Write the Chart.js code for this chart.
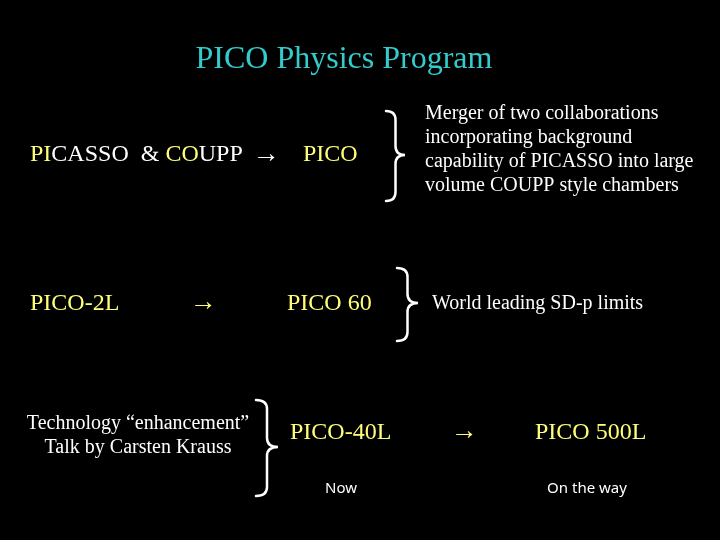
<!DOCTYPE html>
<html>
<head>
<meta charset="utf-8">
<script src="https://cdn.jsdelivr.net/npm/chart.js@4.4.1/dist/chart.umd.min.js"></script>
<style>
  html, body { margin: 0; padding: 0; background: #000; }
  #slide { display: block; }
</style>
</head>
<body>
<canvas id="slide" width="720" height="540"></canvas>
<script>
// Textos do slide
const titleText = "PICO Physics Program";
const sourceParts = [["PI", "y"], ["CASSO  & ", "w"], ["CO", "y"], ["UPP", "w"]];
const stageNames = ["PICO", "PICO-2L", "PICO 60", "PICO-40L", "PICO 500L"];
const noteMerger = ["Merger of two collaborations", "incorporating background",
    "capability of PICASSO into large", "volume COUPP style chambers"];
const noteLimits = ["World leading SD-p limits"];
const noteTech = ["Technology \u201cenhancement\u201d", "Talk by Carsten Krauss"];
const statusLabels = ["Now", "On the way"];
const arrowText = "\u2192";

const colors = { y: "#FFFF77", w: "#FFFFFF", title: "#33CCCC" };
const serif = "'Liberation Serif', 'Times New Roman', serif";

// posição de cada item (em unidades das escalas: 0-720 x 0-540)
const items = [
    { x: 344, y: 60, kind: "title" },
    { x: 30, y: 155, kind: "parts" },
    { x: 266, y: 155, kind: "arrow", c: "w" },
    { x: 303, y: 155, kind: "stage", i: 0 },
    { x: 425, y: 114, kind: "note", lines: noteMerger },
    { x: 30, y: 304, kind: "stage", i: 1 },
    { x: 203, y: 303, kind: "arrow", c: "y" },
    { x: 287, y: 304, kind: "stage", i: 2 },
    { x: 432, y: 304, kind: "note", lines: noteLimits },
    { x: 138, y: 424, kind: "note", lines: noteTech, center: true },
    { x: 290, y: 433, kind: "stage", i: 3 },
    { x: 464, y: 432, kind: "arrow", c: "y" },
    { x: 535, y: 433, kind: "stage", i: 4 },
    { x: 341, y: 489, kind: "status", i: 0 },
    { x: 587, y: 489, kind: "status", i: 1 }
];

// chaves: x0, x1, topo, base, ponta
const braces = [
    { x0: 386, x1: 405, top: 111, bottom: 201, mid: 155 },
    { x0: 397, x1: 418, top: 268, bottom: 341, mid: 303 },
    { x0: 256, x1: 278, top: 400, bottom: 496, mid: 447 }
];

const slidePlugin = {
    id: "slideText",
    afterDatasetsDraw(chart) {
        const ctx = chart.ctx;
        const xs = chart.scales.x, ys = chart.scales.y;
        ctx.save();

        // chaves
        ctx.strokeStyle = "#FFFFFF";
        ctx.lineWidth = 2.5;
        ctx.lineCap = "round";
        braces.forEach(b => {
            const x0 = xs.getPixelForValue(b.x0), x1 = xs.getPixelForValue(b.x1);
            const t = ys.getPixelForValue(b.top), bo = ys.getPixelForValue(b.bottom);
            const m = ys.getPixelForValue(b.mid);
            const xm = (x0 + x1) / 2, r = 9;
            ctx.beginPath();
            ctx.moveTo(x0, t);
            ctx.quadraticCurveTo(xm, t, xm, t + r);
            ctx.lineTo(xm, m - r);
            ctx.quadraticCurveTo(xm, m, x1, m);
            ctx.quadraticCurveTo(xm, m, xm, m + r);
            ctx.lineTo(xm, bo - r);
            ctx.quadraticCurveTo(xm, bo, x0, bo);
            ctx.stroke();
        });

        // textos
        const meta = chart.getDatasetMeta(0);
        ctx.textBaseline = "middle";
        meta.data.forEach((pt, idx) => {
            const it = items[idx];
            const px = pt.x, py = pt.y;
            if (it.kind === "title") {
                ctx.font = "32px " + serif;
                ctx.fillStyle = colors.title;
                ctx.textAlign = "center";
                ctx.fillText(titleText, px, py);
            } else if (it.kind === "parts") {
                ctx.font = "24px " + serif;
                ctx.textAlign = "left";
                let cx = px;
                sourceParts.forEach(([txt, c]) => {
                    ctx.fillStyle = colors[c];
                    ctx.fillText(txt, cx, py);
                    cx += ctx.measureText(txt).width;
                });
            } else if (it.kind === "arrow") {
                ctx.font = "27px " + serif;
                ctx.fillStyle = colors[it.c];
                ctx.textAlign = "center";
                ctx.fillText(arrowText, px, py);
            } else if (it.kind === "stage") {
                ctx.font = "24px " + serif;
                ctx.fillStyle = colors.y;
                ctx.textAlign = "left";
                ctx.fillText(stageNames[it.i], px, py);
            } else if (it.kind === "note") {
                ctx.font = "20px " + serif;
                ctx.fillStyle = colors.w;
                ctx.textAlign = it.center ? "center" : "left";
                it.lines.forEach((ln, k) => ctx.fillText(ln, px, py + k * 24));
            } else if (it.kind === "status") {
                ctx.font = "15px 'Noto Sans', sans-serif";
                ctx.fillStyle = colors.w;
                ctx.textAlign = "center";
                ctx.fillText(statusLabels[it.i], px, py);
            }
        });
        ctx.restore();
    }
};

new Chart(document.getElementById("slide").getContext("2d"), {
    type: "scatter",
    data: {
        datasets: [{
            data: items.map(it => ({ x: it.x, y: it.y })),
            pointRadius: 0,
            pointHoverRadius: 0
        }]
    },
    options: {
        responsive: false,
        animation: false,
        events: [],
        layout: { padding: 0 },
        plugins: { legend: { display: false }, tooltip: { enabled: false } },
        scales: {
            x: { type: "linear", min: 0, max: 720, display: false },
            y: { type: "linear", min: 0, max: 540, reverse: true, display: false }
        }
    },
    plugins: [slidePlugin]
});
</script>
</body>
</html>
